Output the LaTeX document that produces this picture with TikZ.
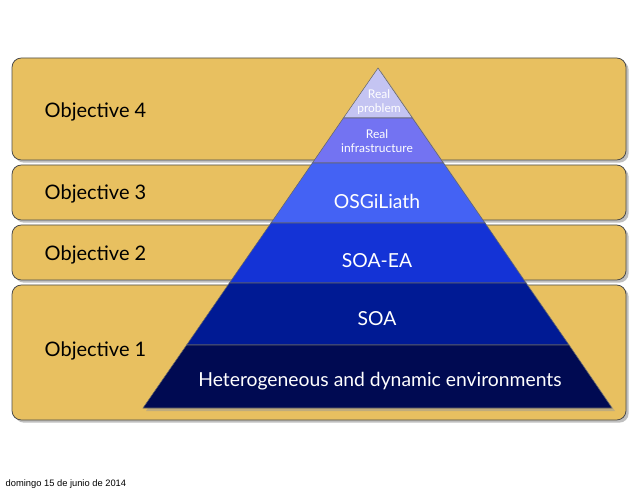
\documentclass[tikz,border=0pt]{standalone}
\usepackage{fontspec}
\setmainfont{Lato}
\newfontfamily\footfont{Liberation Sans}
\usetikzlibrary{shadows}
\definecolor{band}{HTML}{E8C060}
\definecolor{lA}{HTML}{C4C4F2}
\definecolor{lB}{HTML}{7373F2}
\definecolor{lC}{HTML}{4462F4}
\definecolor{lD}{HTML}{1433D6}
\definecolor{lE}{HTML}{001A94}
\definecolor{lF}{HTML}{000A52}
\tikzset{
 bandbox/.style={fill=band,draw=black!70,line width=0.6pt,rounded corners=7pt,drop shadow={shadow xshift=2pt,shadow yshift=-2pt,opacity=0.5}},
 objlabel/.style={anchor=west,font=\fontsize{15}{15}\selectfont},
 layer/.style={draw=black!60,line width=0.4pt},
 pyrtext/.style={text=white,align=center,font=\fontsize{14.5}{15}\selectfont}
}
\begin{document}
\begin{tikzpicture}[x=0.75pt,y=-0.75pt]
\useasboundingbox (0,0) rectangle (638,491);
\fill[white] (0,0) rectangle (638,491);
\path[bandbox] (12,58) rectangle (626,160);
\path[bandbox] (12,165) rectangle (626,220);
\path[bandbox] (12,225) rectangle (626,280);
\path[bandbox] (12,285) rectangle (626,420);
\node[objlabel] (o4) at (40,112) {Objective 4};
\node[objlabel] (o3) at (40,194) {Objective 3};
\node[objlabel] (o2) at (40,255) {Objective 2};
\node[objlabel] (o1) at (40,351) {Objective 1};
% pyramid
\fill[black!40,opacity=0.5] (381,71) -- (615,411) -- (146,411) -- cycle;
\path[layer,fill=lA] (378,68) -- (412.4,118) -- (343.4,118) -- cycle;
\path[layer,fill=lB] (343.4,118) -- (412.4,118) -- (443.4,163) -- (312.4,163) -- cycle;
\path[layer,fill=lC] (312.4,163) -- (443.4,163) -- (485,223) -- (271,223) -- cycle;
\path[layer,fill=lD] (271,223) -- (485,223) -- (526,283) -- (229.4,283) -- cycle;
\path[layer,fill=lE] (229.4,283) -- (526,283) -- (569,345) -- (186.6,345) -- cycle;
\path[layer,fill=lF] (186.6,345) -- (569,345) -- (612,408) -- (143,408) -- cycle;
\node[text=white,align=center,font=\fontsize{9}{10}\selectfont] (t1) at (379,102) {Real\\problem};
\node[text=white,align=center,font=\fontsize{9}{10}\selectfont] (t2) at (377,141) {Real\\infrastructure};
\node[pyrtext] (t3) at (377,201) {OSGiLiath};
\node[pyrtext] (t4) at (377,261) {SOA-EA};
\node[pyrtext] (t5) at (377,319) {SOA};
\node[pyrtext] (t6) at (380,381) {Heterogeneous and dynamic environments};
\node[anchor=west,font=\fontsize{7}{7}\footfont] (f) at (1,484) {domingo 15 de junio de 2014};
\end{tikzpicture}
\end{document}
